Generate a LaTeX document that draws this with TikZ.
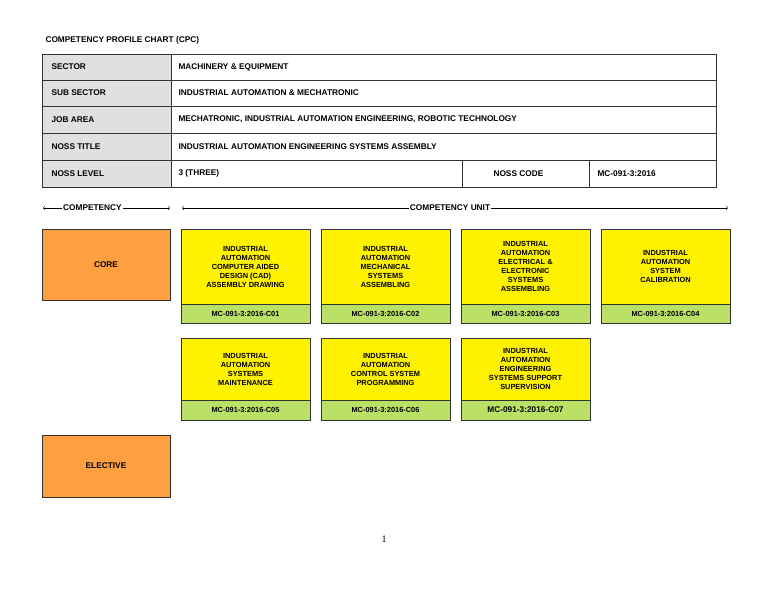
\documentclass[tikz,border=0pt]{standalone}
\usepackage{fontspec}
\setmainfont{Liberation Sans}
\newfontfamily\serifnum{Liberation Serif}
\begin{document}
\begin{tikzpicture}[x=1pt,y=-1pt,
  cell/.style={draw=black!80,line width=0.6pt,anchor=north west,inner sep=0},
  lab/.style={anchor=west,font=\bfseries\fontsize{8.3}{10}\selectfont},
  unit/.style={draw=black!80,fill=yellow,line width=0.6pt,align=center,font=\bfseries\fontsize{7.4}{9}\selectfont},
  codebox/.style={draw=black!80,fill=green!55!black!45!yellow!60,line width=0.6pt,font=\bfseries\fontsize{7.4}{9}\selectfont},
  catbox/.style={draw=black!80,fill=orange!75!white,line width=0.6pt,font=\bfseries\fontsize{8.3}{10}\selectfont}]
\useasboundingbox (0,0) rectangle (768,594);
\node[lab] (title) at (42,40) {COMPETENCY PROFILE CHART (CPC)};
% table
\fill[black!12] (42,54) rectangle (171,187);
\draw[black!80,line width=0.6pt] (42,54) rectangle (716,187);
\foreach \y in {80,106,133,160} \draw[black!80,line width=0.6pt] (42,\y) -- (716,\y);
\draw[black!80,line width=0.6pt] (171,54) -- (171,187);
\draw[black!80,line width=0.6pt] (462,160) -- (462,187) (589,160) -- (589,187);
\node[lab] (s1) at (48,67) {SECTOR};
\node[lab] (s2) at (48,93) {SUB SECTOR};
\node[lab] (s3) at (48,119.5) {JOB AREA};
\node[lab] (s4) at (48,146.5) {NOSS TITLE};
\node[lab] (s5) at (48,173.5) {NOSS LEVEL};
\node[lab] (v1) at (175,67) {MACHINERY \& EQUIPMENT};
\node[lab] (v2) at (175,93) {INDUSTRIAL AUTOMATION \& MECHATRONIC};
\node[lab] (v3) at (175,119.5) {MECHATRONIC, INDUSTRIAL AUTOMATION ENGINEERING, ROBOTIC TECHNOLOGY};
\node[lab] (v4) at (175,146.5) {INDUSTRIAL AUTOMATION ENGINEERING SYSTEMS ASSEMBLY};
\node[lab] (v5) at (175,173.5) {3 (THREE)};
\node[lab] (c5) at (490,173.5) {NOSS CODE};
\node[lab] (d5) at (594,173.5) {MC-091-3:2016};
% headings
\node[lab,inner sep=1pt] (comp) at (62,208) {COMPETENCY};
\coordinate (cl) at (43,208);
\coordinate (cr) at (170,208);
\draw[->,line width=0.5pt] (comp.east) -- (cr);
\draw[->,line width=0.5pt] (comp.west) -- (cl);
\node[lab,inner sep=1pt,anchor=center] (cu) at (450,208) {COMPETENCY UNIT};
\coordinate (ul) at (182,208);
\coordinate (ur) at (728,208);
\draw[->,line width=0.5pt] (cu.west) -- (ul);
\draw[->,line width=0.5pt] (cu.east) -- (ur);
% categories
\node[catbox,minimum width=128pt,minimum height=71pt] (core) at (106,264.5) {CORE};
\node[catbox,minimum width=128pt,minimum height=62pt] (elective) at (106,466) {ELECTIVE};
% units row 1
\foreach \x/\t/\c/\n in {
 245.5/{INDUSTRIAL\\AUTOMATION\\COMPUTER AIDED\\DESIGN (CAD)\\ASSEMBLY DRAWING}/C01/u1,
 385.5/{INDUSTRIAL\\AUTOMATION\\MECHANICAL\\SYSTEMS\\ASSEMBLING}/C02/u2,
 525.5/{INDUSTRIAL\\AUTOMATION\\ELECTRICAL \&\\ELECTRONIC\\SYSTEMS\\ASSEMBLING}/C03/u3,
 665.5/{INDUSTRIAL\\AUTOMATION\\SYSTEM\\CALIBRATION}/C04/u4}{
 \node[unit,minimum width=129pt,minimum height=75pt,inner sep=1pt] (\n) at (\x,266.5) {\t};
 \node[codebox,minimum width=129pt,minimum height=19pt,inner sep=0pt] (\n c) at (\x,313.5) {MC-091-3:2016-\c};
}
\foreach \x/\t/\c/\n in {
 245.5/{INDUSTRIAL\\AUTOMATION\\SYSTEMS\\MAINTENANCE}/C05/u5,
 385.5/{INDUSTRIAL\\AUTOMATION\\CONTROL SYSTEM\\PROGRAMMING}/C06/u6}{
 \node[unit,minimum width=129pt,minimum height=62pt,inner sep=1pt] (\n) at (\x,369) {\t};
 \node[codebox,minimum width=129pt,minimum height=20pt,inner sep=0pt] (\n c) at (\x,410) {MC-091-3:2016-\c};
}
\node[unit,minimum width=129pt,minimum height=62pt,inner sep=1pt] (u7) at (525.5,369) {INDUSTRIAL\\AUTOMATION\\ENGINEERING\\SYSTEMS SUPPORT\\SUPERVISION};
\node[codebox,minimum width=129pt,minimum height=20pt,inner sep=0pt,font=\bfseries\fontsize{8.3}{10}\selectfont] (u7c) at (525.5,410) {MC-091-3:2016-C07};
\node[font=\serifnum\fontsize{10}{12}\selectfont] (pg) at (384,539) {1};
\end{tikzpicture}
\end{document}
